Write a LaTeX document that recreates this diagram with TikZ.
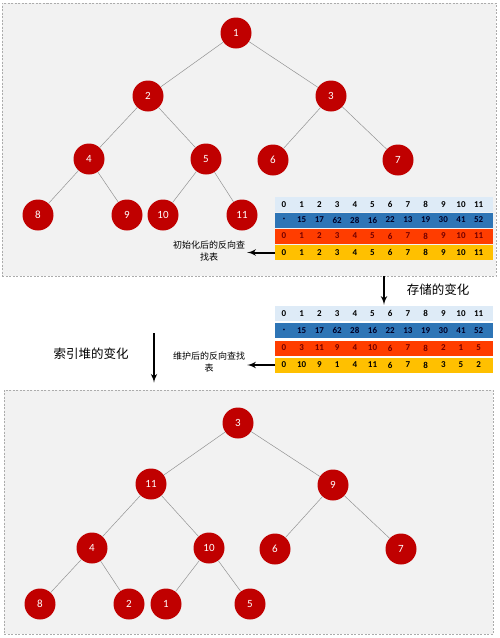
\documentclass[tikz,border=0pt]{standalone}
\usepackage{fontspec}
\setmainfont{Carlito}
\newfontfamily\cjk{Noto Sans CJK SC}
\usetikzlibrary{arrows,positioning}

\definecolor{heapred}{RGB}{192,0,0}
\definecolor{panelgray}{RGB}{242,242,242}
\definecolor{rowlight}{RGB}{222,235,247}
\definecolor{rowblue}{RGB}{46,117,182}
\definecolor{rowred}{RGB}{255,61,0}
\definecolor{roworange}{RGB}{255,192,0}

\tikzset{
	heapnode/.style = {circle, fill=heapred, text=white, minimum size=31pt, inner sep=0pt, font=\fontsize{11}{11}\selectfont},
	edge/.style = {draw, gray!85, line width=0.5pt},
	panel/.style = {rectangle, draw=gray!65, dash pattern=on 2pt off 1.5pt, fill=panelgray, line width=0.7pt, inner sep=0pt},
	row/.style = {rectangle, minimum width=218pt, minimum height=15pt, inner sep=0pt},
	cell/.style = {inner sep=0pt, font=\fontsize{9}{9}\selectfont\bfseries},
	line/.style = {draw, line width=2pt, -latex'},
	caption/.style = {align=center, inner sep=0pt, font=\cjk\fontsize{9}{12}\selectfont},
	title/.style = {inner sep=0pt, font=\cjk\fontsize{12.5}{12.5}\selectfont}
}

\begin{document}
\begin{tikzpicture}[x=1pt,y=-1pt]
		\useasboundingbox (0,0) rectangle (500,638);
		
		%panels
		\node [panel, minimum width=494pt, minimum height=273pt] (toppanel) at (249,139.5) {};
		\node [panel, minimum width=489pt, minimum height=244pt] (botpanel) at (248.5,512) {};
		
		%heap before
		\node [heapnode] (a1) at (236,33) {1};
		\node [heapnode] (a2) at (148,96) {2};
		\node [heapnode] (a3) at (331,96) {3};
		\node [heapnode] (a4) at (89,159) {4};
		\node [heapnode] (a5) at (206,159) {5};
		\node [heapnode] (a6) at (273,160) {6};
		\node [heapnode] (a7) at (398,160) {7};
		\node [heapnode] (a8) at (38,215) {8};
		\node [heapnode] (a9) at (127,215) {9};
		\node [heapnode] (a10) at (163,215) {10};
		\node [heapnode] (a11) at (242,215) {11};
		
		%heap after
		\node [heapnode] (b1) at (238,423) {3};
		\node [heapnode] (b2) at (151,484) {11};
		\node [heapnode] (b3) at (333,485) {9};
		\node [heapnode] (b4) at (92,548) {4};
		\node [heapnode] (b5) at (209,548) {10};
		\node [heapnode] (b6) at (275,549) {6};
		\node [heapnode] (b7) at (401,549) {7};
		\node [heapnode] (b8) at (40,604) {8};
		\node [heapnode] (b9) at (129,604) {2};
		\node [heapnode] (b10) at (166,604) {1};
		\node [heapnode] (b11) at (250,604) {5};
		
		\foreach \c/\p in {2/1,3/1,4/2,5/2,6/3,7/3,8/4,9/4,10/5,11/5}{
			\path [edge] (a\p) -- (a\c);
			\path [edge] (b\p) -- (b\c);
		}
		
		%tables
		\node [row, fill=rowlight] (t1a) at (384,204.5) {};
		\node [row, fill=rowblue] (t1b) at (384,220) {};
		\node [row, fill=rowred] (t1c) at (384,236) {};
		\node [row, fill=roworange] (t1d) at (384,252.5) {};
		
		\node [row, fill=rowlight] (t2a) at (384,313.5) {};
		\node [row, fill=rowblue] (t2b) at (384,330.5) {};
		\node [row, fill=rowred] (t2c) at (384,348) {};
		\node [row, fill=roworange] (t2d) at (384,365) {};
		
		\foreach \v [count=\i from 0] in {0,1,2,3,4,5,6,7,8,9,10,11}{
			\node [cell] (t1a-\i) at (284+17.7*\i,204.5) {\v};
			\node [cell, text=heapred!60!black] (t1c-\i) at (284+17.7*\i,236) {\v};
			\node [cell] (t1d-\i) at (284+17.7*\i,252.5) {\v};
			\node [cell] (t2a-\i) at (284+17.7*\i,313.5) {\v};
		}
		\foreach \v [count=\i from 0] in {·,15,17,62,28,16,22,13,19,30,41,52}{
			\node [cell, text=black!85!blue] (t1b-\i) at (284+17.7*\i,220) {\v};
			\node [cell, text=black!85!blue] (t2b-\i) at (284+17.7*\i,330.5) {\v};
		}
		\foreach \v [count=\i from 0] in {0,3,11,9,4,10,6,7,8,2,1,5}
			\node [cell, text=heapred!60!black] (t2c-\i) at (284+17.7*\i,348) {\v};
		\foreach \v [count=\i from 0] in {0,10,9,1,4,11,6,7,8,3,5,2}
			\node [cell] (t2d-\i) at (284+17.7*\i,365) {\v};
		
		%labels
		\node [caption] (cap1) at (209,251) {初始化后的反向查\\找表};
		\node [caption] (cap2) at (209,362.5) {维护后的反向查找\\表};
		\node [title] (store) at (438,290) {存储的变化};
		\node [title] (change) at (91,354) {索引堆的变化};
		
		\coordinate (s1) at (384,276);
		\coordinate (s2) at (154,333);
		
		\path [line] (t1d.west) -- ([xshift=2pt]cap1.east |- t1d.west);
		\path [line] (t2d.west) -- ([xshift=2pt]cap2.east |- t2d.west);
		\path [line, shorten >=1pt] (s1) -- (s1 |- t2a.north);
		\path [line, shorten >=7pt] (s2) -- (s2 |- botpanel.north);
		
	\end{tikzpicture}
\end{document}
